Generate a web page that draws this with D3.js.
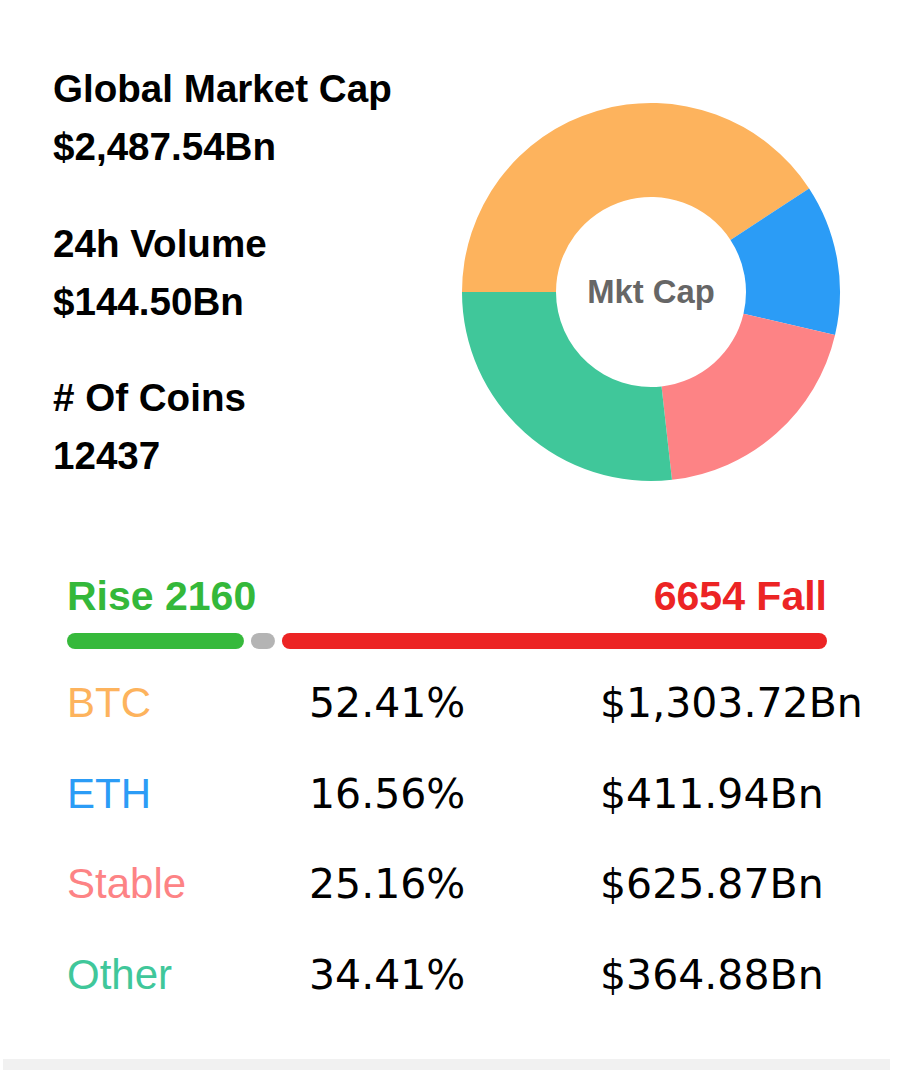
<!DOCTYPE html>
<html>
<head>
<meta charset="utf-8">
<script src="https://cdn.jsdelivr.net/npm/d3@7"></script>
<style>
  body { margin: 0; background: #fff; }
</style>
</head>
<body>
<div id="chart"></div>
<script>
// summary figures
const statLabels = ["Global Market Cap", "24h Volume", "# Of Coins"];
const statValues = ["$2,487.54Bn", "$144.50Bn", "12437"];

// market cap split
const coins = ["BTC", "ETH", "Stable", "Other"];
const shares = [52.41, 16.56, 25.16, 34.41];
const caps = ["$1,303.72Bn", "$411.94Bn", "$625.87Bn", "$364.88Bn"];
const coinColors = ["#fdb35d", "#2b9cf6", "#fd8385", "#40c79a"];

// rise / fall counts
const rise = 2160;
const fall = 6654;

const width = 922, height = 1078;

const svg = d3.select("#chart")
    .append("svg")
    .attr("width", width)
    .attr("height", height);

// left column of stats
const statY = d3.scalePoint().domain(statLabels).range([102, 411]);
statLabels.forEach((lab, i) => {
    svg.append("text")
        .attr("x", 53).attr("y", statY(lab))
        .attr("font-family", "Liberation Sans, Arial, sans-serif")
        .attr("font-weight", "bold")
        .attr("font-size", 38.6)
        .attr("fill", "#000")
        .text(lab);
    svg.append("text")
        .attr("x", 53).attr("y", statY(lab) + 58)
        .attr("font-family", "Liberation Sans, Arial, sans-serif")
        .attr("font-weight", "bold")
        .attr("font-size", 38.6)
        .attr("fill", "#000")
        .text(statValues[i]);
});

// donut
const pie = d3.pie().sort(null)
    .startAngle(-Math.PI / 2)
    .endAngle(Math.PI * 1.5);
const arc = d3.arc().innerRadius(95).outerRadius(189);

const donut = svg.append("g").attr("transform", "translate(651,292)");
donut.selectAll("path")
    .data(pie(shares))
    .enter().append("path")
    .attr("d", arc)
    .attr("fill", (d, i) => coinColors[i]);

donut.append("text")
    .attr("text-anchor", "middle")
    .attr("dy", "0.35em")
    .attr("font-family", "Liberation Sans, Arial, sans-serif")
    .attr("font-weight", "bold")
    .attr("font-size", 32.8)
    .attr("fill", "#666")
    .text("Mkt Cap");

// rise / fall bar
const barX0 = 67, barX1 = 827, barY = 633, barH = 16, grayW = 24, gap = 7;
const x = d3.scaleLinear()
    .domain([0, rise + fall])
    .range([barX0, barX1 - grayW - gap * 2]);

svg.append("text")
    .attr("x", barX0).attr("y", 610)
    .attr("font-family", "Liberation Sans, Arial, sans-serif")
    .attr("font-weight", "bold")
    .attr("font-size", 41)
    .attr("fill", "#34b83a")
    .text("Rise " + rise);

svg.append("text")
    .attr("x", barX1).attr("y", 610)
    .attr("text-anchor", "end")
    .attr("font-family", "Liberation Sans, Arial, sans-serif")
    .attr("font-weight", "bold")
    .attr("font-size", 41)
    .attr("fill", "#ec2424")
    .text(fall + " Fall");

const riseEnd = x(rise);
svg.append("rect")
    .attr("x", barX0).attr("y", barY)
    .attr("width", riseEnd - barX0).attr("height", barH)
    .attr("rx", barH / 2)
    .attr("fill", "#36b93b");
svg.append("rect")
    .attr("x", riseEnd + gap).attr("y", barY)
    .attr("width", grayW).attr("height", barH)
    .attr("rx", barH / 2)
    .attr("fill", "#b4b4b4");
svg.append("rect")
    .attr("x", riseEnd + gap * 2 + grayW).attr("y", barY)
    .attr("width", x(rise + fall) - riseEnd).attr("height", barH)
    .attr("rx", barH / 2)
    .attr("fill", "#ec2424");

// table
const rowY = d3.scalePoint().domain(coins).range([717, 989]);
const rows = svg.selectAll(".row")
    .data(coins)
    .enter().append("g")
    .attr("class", "row")
    .attr("transform", d => `translate(0,${rowY(d)})`);

rows.append("text")
    .attr("x", 67)
    .attr("font-family", "Liberation Sans, Arial, sans-serif")
    .attr("font-size", 42)
    .attr("fill", (d, i) => coinColors[i])
    .text(d => d);

rows.append("text")
    .attr("x", 309)
    .attr("font-family", "DejaVu Sans, sans-serif")
    .attr("font-size", 41)
    .attr("fill", "#000")
    .text((d, i) => shares[i].toFixed(2) + "%");

rows.append("text")
    .attr("x", 600)
    .attr("font-family", "DejaVu Sans, sans-serif")
    .attr("font-size", 41)
    .attr("fill", "#000")
    .text((d, i) => caps[i]);

// footer strip
svg.append("rect")
    .attr("x", 3).attr("y", 1059)
    .attr("width", 887).attr("height", 11)
    .attr("fill", "#f1f1f1");
</script>
</body>
</html>
